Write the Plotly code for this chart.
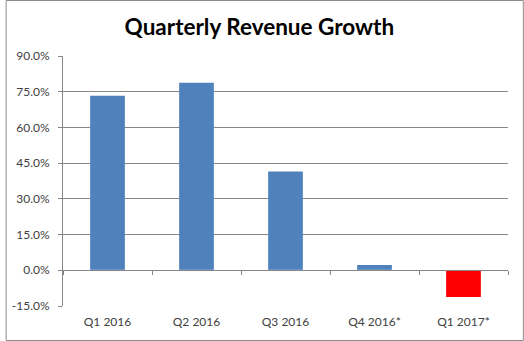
import plotly.graph_objects as go

# Quarterly revenue growth, percent
quarters = ["Q1 2016", "Q2 2016", "Q3 2016", "Q4 2016*", "Q1 2017*"]
growth = [73.3, 78.8, 41.5, 2.2, -11.2]
bar_colors = ["#4F81BD", "#4F81BD", "#4F81BD", "#4F81BD", "#FF0000"]
y_ticks = [-15, 0, 15, 30, 45, 60, 75, 90]
y_tick_text = [f"{v:.1f}%" for v in y_ticks]

y_min, y_max = -15, 90
grid = "#868686"
font_family = "Lato, 'Open Sans', sans-serif"

fig = go.Figure()
fig.add_trace(go.Bar(
    x=quarters, y=growth,
    marker=dict(color=bar_colors, line=dict(width=0)),
    hoverinfo="x+y",
))
# invisible trace that carries the category axis drawn along the zero line
fig.add_trace(go.Bar(x=quarters, y=[0] * len(quarters), xaxis="x2",
                     showlegend=False, hoverinfo="skip",
                     marker=dict(color="rgba(0,0,0,0)")))

fig.update_layout(
    width=524, height=341,
    margin=dict(l=58, r=16, t=56, b=35),
    paper_bgcolor="white", plot_bgcolor="white",
    showlegend=False,
    bargap=0.61,
    barmode="overlay",
    title=dict(text="<b>Quarterly Revenue Growth</b>", x=0.495, xref="container",
               xanchor="center", y=1 - 27 / 341, yanchor="middle",
               font=dict(family=font_family, size=22.5, color="#000000")),
    font=dict(family=font_family, size=12, color="#404040"),
    xaxis=dict(
        type="category", showgrid=False, showline=False, zeroline=False,
        ticks="", tickfont=dict(size=12, color="#404040"),
        ticklabelstandoff=7,
        range=[-0.5, 4.5],
    ),
    xaxis2=dict(
        type="category", overlaying="x", anchor="free",
        position=(0 - y_min) / (y_max - y_min),
        showline=True, linecolor=grid, linewidth=1,
        ticks="outside", ticklen=4, tickcolor=grid, tickson="boundaries",
        showticklabels=False, showgrid=False, zeroline=False,
        range=[-0.5, 4.5], matches="x",
    ),
    yaxis=dict(
        range=[y_min, y_max], tickvals=y_ticks, ticktext=y_tick_text,
        showgrid=True, gridcolor=grid, gridwidth=1,
        showline=True, linecolor=grid, linewidth=1,
        ticks="outside", ticklen=4, tickcolor=grid,
        zeroline=False, tickfont=dict(size=12, color="#404040"),
        ticklabelstandoff=6,
    ),
)

# thin grey frame around the whole chart area
pw, ph = 524 - 58 - 16, 341 - 56 - 35
fig.add_shape(type="rect", xref="paper", yref="paper",
              x0=(0.5 - 58) / pw, x1=(523.5 - 58) / pw,
              y0=-(35 - 0.5) / ph, y1=1 + (56 - 0.5) / ph,
              line=dict(color="#8C8C8C", width=1), fillcolor="rgba(0,0,0,0)",
              layer="above")

fig.write_html("out.html")
